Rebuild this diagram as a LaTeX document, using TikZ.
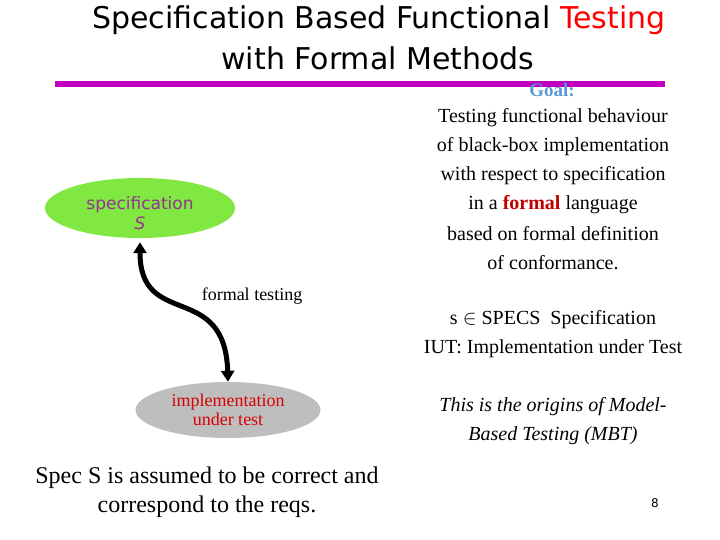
\documentclass[tikz,border=0pt]{standalone}
\usepackage{fontspec}
\setmainfont{Liberation Serif}
\newfontfamily\titlefont{DejaVu Sans}
\usetikzlibrary{shapes.geometric,arrows.meta}
\begin{document}
\begin{tikzpicture}[x=1pt,y=-1pt,
  body/.style={font=\fontsize{20}{20}\selectfont},
  ell/.style={ellipse,minimum width=#1,inner sep=0pt}]
\useasboundingbox[fill=white] (0,0) rectangle (720,540);
\node[font=\titlefont\fontsize{30}{30}\selectfont] (t1) at (379,20) {Specification Based Functional \textcolor{red}{Testing}};
\node[font=\titlefont\fontsize{30}{30}\selectfont] (t2) at (378,58) {with Formal Methods};
\fill[color={rgb,255:red,192;green,0;blue,192}] (55,81) rectangle (665,87);
\node[font=\bfseries\fontsize{19}{19}\selectfont,text={rgb,255:red,91;green,155;blue,213}] (goal) at (552,90) {Goal:};
\node[body] (g1) at (553,118) {Testing functional behaviour};
\node[body] (g2) at (553,147) {of black-box implementation};
\node[body] (g3) at (553,176) {with respect to specification};
\node[body] (g4) at (553,205) {in a \textcolor{red!75!black}{\textbf{formal}} language};
\node[body] (g5) at (553,234) {based on formal definition};
\node[body] (g6) at (553,263) {of conformance.};
\node[ell=190pt,minimum height=60pt,fill={rgb,255:red,128;green,232;blue,64}] (spec) at (140,208) {};
\node[align=center,font=\titlefont\fontsize{17}{20}\selectfont,text={rgb,255:red,150;green,50;blue,150}] (spectext) at (140,213) {specification\\\textit{S}};
\node[ell=185pt,minimum height=56pt,fill={rgb,255:red,190;green,190;blue,190},align=center,
  font=\fontsize{18}{19}\selectfont,text=red!85!black] (impl) at (228,410) {implementation\\under test};
\draw[line width=5pt,{Triangle[length=11pt,width=13pt]}-{Triangle[length=11pt,width=13pt]}]
  (spec.south) ++(0,4) coordinate (a) (a) .. controls (140,330) and (225,280) .. (impl.north);
\node[font=\fontsize{18}{18}\selectfont] (ft) at (252,296) {formal testing};
\node[body] (specs) at (553,320) {s $\in$ SPECS\ \ Specification};
\node[body] (iut) at (553,349) {IUT: Implementation under Test};
\node[font=\itshape\fontsize{20}{20}\selectfont] (mbt1) at (553,407) {This is the origins of Model-};
\node[font=\itshape\fontsize{20}{20}\selectfont] (mbt2) at (553,436) {Based Testing (MBT)};
\node[font=\fontsize{24}{24}\selectfont] (b1) at (207,478) {Spec S is assumed to be correct and};
\node[font=\fontsize{24}{24}\selectfont] (b2) at (207,507) {correspond to the reqs.};
\node[font=\titlefont\fontsize{12}{12}\selectfont] (pg) at (655,503) {8};
\end{tikzpicture}
\end{document}
